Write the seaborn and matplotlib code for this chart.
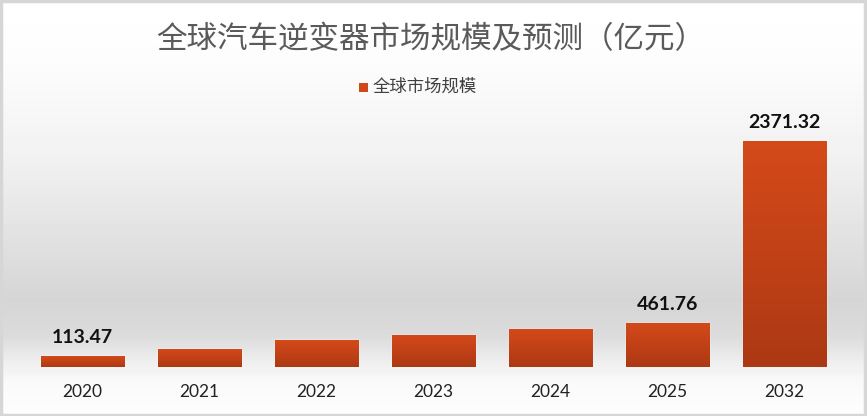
import numpy as np
import pandas as pd
import matplotlib
matplotlib.use("Agg")
import matplotlib.pyplot as plt
import seaborn as sns
from matplotlib.colors import LinearSegmentedColormap
from matplotlib.patches import Rectangle

# data
years = ["2020", "2021", "2022", "2023", "2024", "2025", "2032"]
market = [113.47, 189, 283, 336, 399, 461.76, 2371.32]
labelled = {"2020", "2025", "2032"}

df = pd.DataFrame({"year": years, "market": market})

sns.set_theme(style="white")
plt.rcParams["font.family"] = ["Noto Sans CJK SC", "DejaVu Sans"]

fig = plt.figure(figsize=(8.67, 4.16), dpi=100)

# figure background: soft vertical grey gradient
bg = fig.add_axes([0, 0, 1, 1], zorder=-10)
ypix = np.arange(416)
shade = np.interp(ypix, [0, 60, 150, 230, 300, 335, 360, 380, 416],
                  [1.0, 0.99, 0.95, 0.89, 0.835, 0.86, 0.93, 0.975, 0.995])
bg.imshow(np.repeat(shade[:, None], 10, axis=1), cmap="gray", vmin=0, vmax=1,
          aspect="auto", extent=[0, 1, 0, 1], origin="upper")
bg.add_patch(Rectangle((0.001, 0.002), 0.997, 0.995, transform=bg.transAxes,
                       fill=False, edgecolor="#d6d6d6", linewidth=2.5))
bg.set_axis_off()

ax = fig.add_axes([0.0277, 0.1178, 0.9446, 0.5962])
ax.patch.set_alpha(0)
sns.barplot(data=df, x="year", y="market", color="#c44418", width=0.71,
            saturation=1, ax=ax)

bar_cmap = LinearSegmentedColormap.from_list("bar", ["#ab3913", "#c24117", "#d44a1a"])
grad = np.linspace(0, 1, 256)[:, None]
for patch in ax.patches:
    x0, y0 = patch.get_x(), patch.get_y()
    w, h = patch.get_width(), patch.get_height()
    im = ax.imshow(grad, cmap=bar_cmap, aspect="auto", origin="lower",
                   extent=[x0, x0 + w, y0, y0 + h], zorder=patch.get_zorder() + 0.1)
    im.set_clip_path(patch)

for i, (yr, v) in enumerate(zip(years, market)):
    if yr in labelled:
        ax.annotate(f"{v:.2f}", (i, v), xytext=(0, 7), textcoords="offset points",
                    ha="center", va="bottom", fontsize=14, fontweight="bold",
                    color="#111111", family=["Lato", "DejaVu Sans"])

ax.set_xlim(-0.5, len(years) - 0.5)
ax.set_ylim(0, 2600)
ax.set_xlabel("")
ax.set_ylabel("")
ax.set_yticks([])
ax.tick_params(axis="x", length=0, pad=12, labelsize=12.5, labelcolor="#222222")
for lbl in ax.get_xticklabels():
    lbl.set_family(["Lato", "DejaVu Sans"])
sns.despine(ax=ax, left=True, bottom=True)

fig.text(0.497, 0.905, "全球汽车逆变器市场规模及预测（亿元）", ha="center", va="center",
         fontsize=22, color="#5a5a5a")

# legend
fig.patches.append(Rectangle((359 / 867, 1 - 92 / 416), 9 / 867, 9 / 416,
                             transform=fig.transFigure, facecolor="#cf4819",
                             edgecolor="none"))
fig.text(373 / 867, 1 - 87 / 416, "全球市场规模", ha="left", va="center",
         fontsize=12.5, color="#404040")

fig.savefig("out.png", dpi=100)
